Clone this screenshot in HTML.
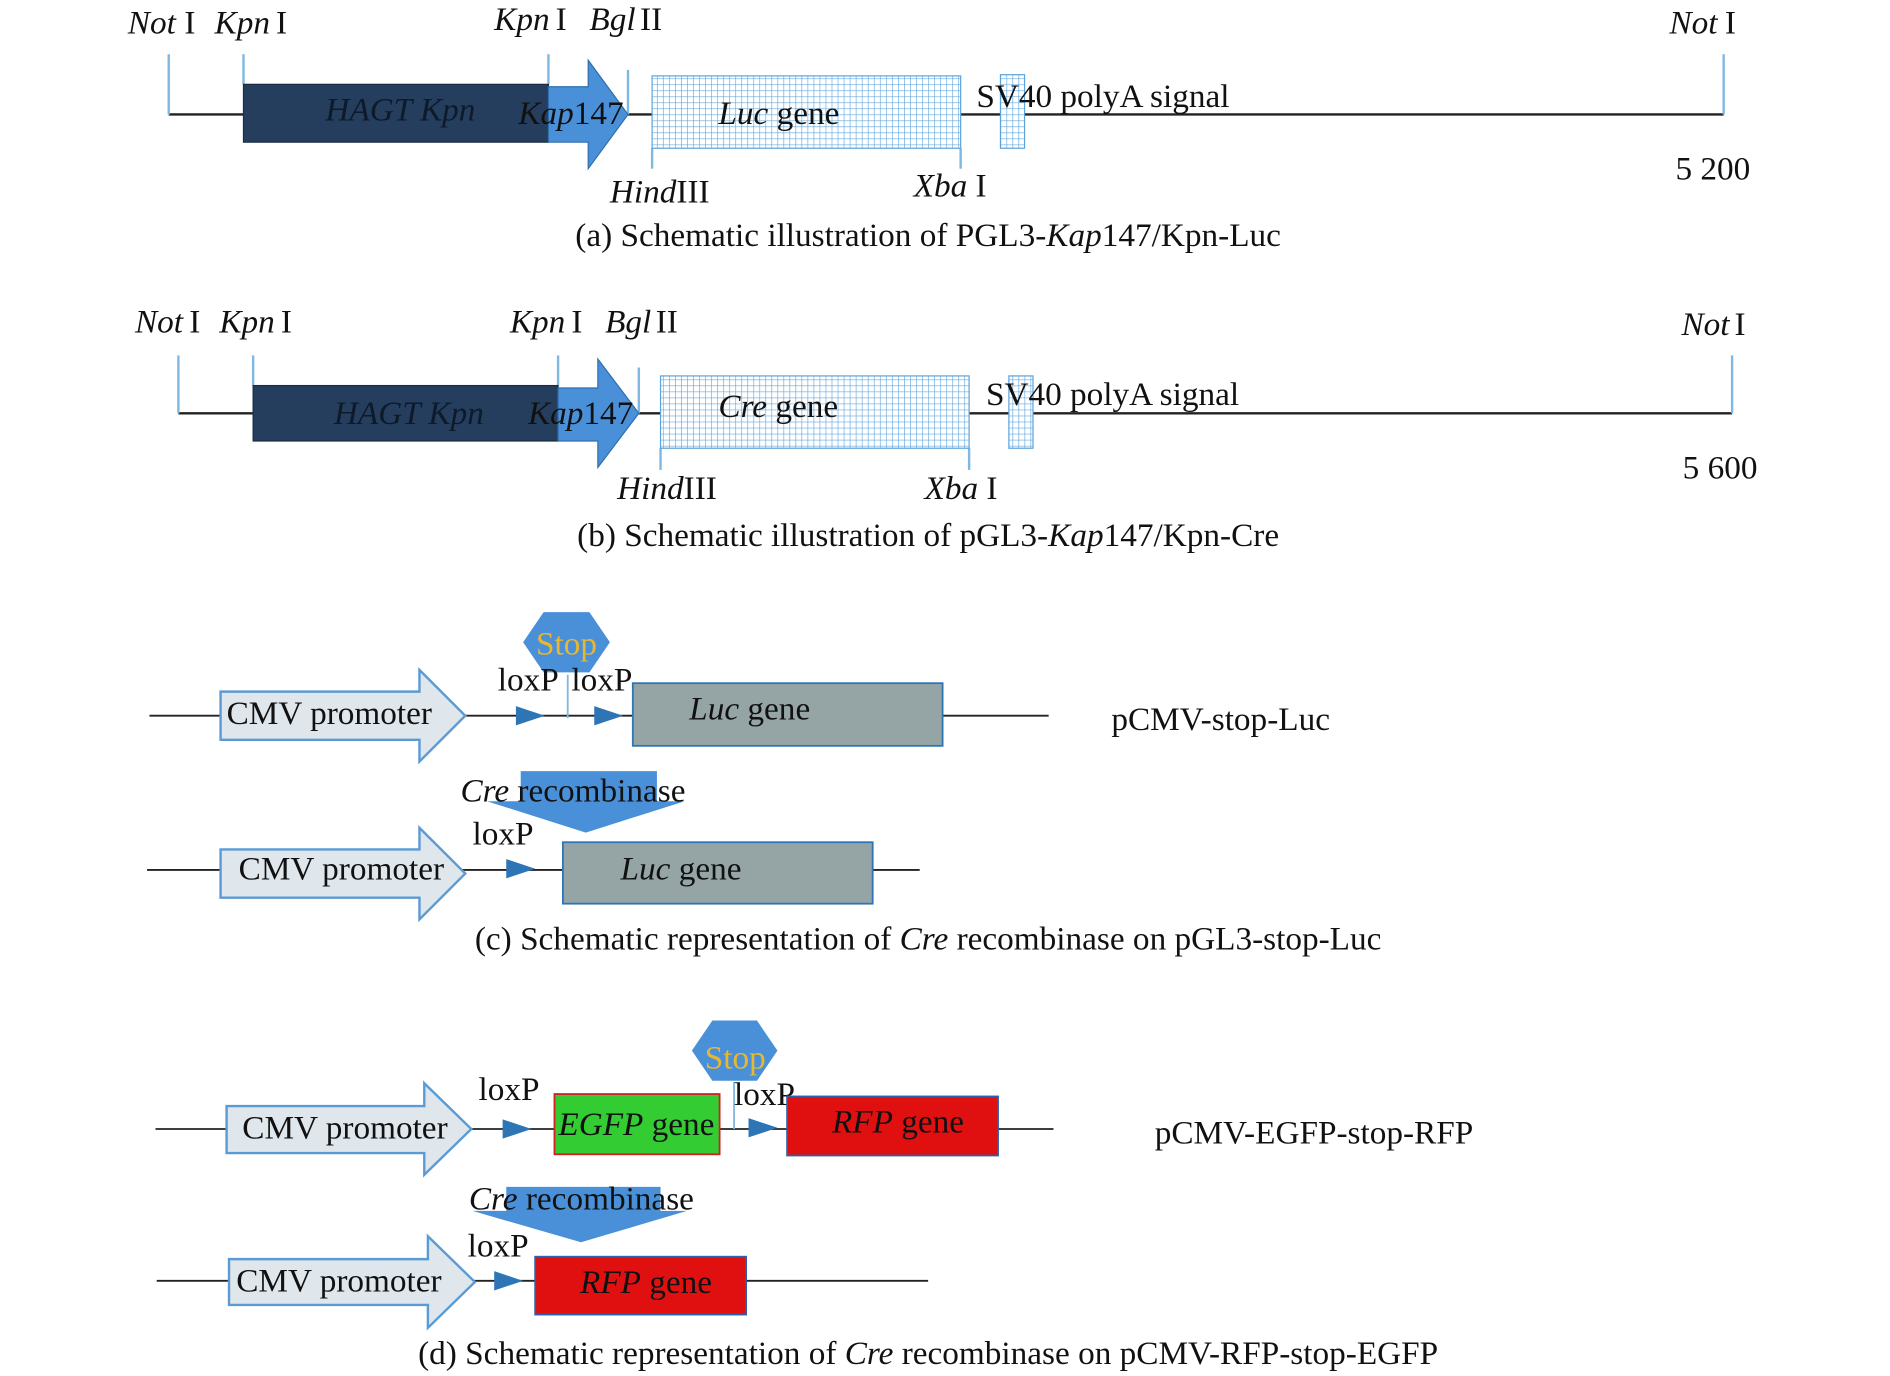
<!DOCTYPE html>
<html><head><meta charset="utf-8"><style>html,body{margin:0;padding:0;background:#fff}svg{display:block}text{font-family:"Liberation Serif",serif}</style></head><body>
<svg width="1890" height="1376" viewBox="0 0 1568 1142" preserveAspectRatio="none" xmlns="http://www.w3.org/2000/svg">
<defs>
<pattern id="g" width="5" height="5" patternUnits="userSpaceOnUse"><rect width="5" height="5" fill="#fff"/><path d="M0 0H5M0 0V5" stroke="#5ba3dc" stroke-width="1"/></pattern>
</defs>
<g font-size="27.6" fill="#111">
<!-- (a) -->
<line x1="140" y1="95" x2="1430" y2="95" stroke="#222" stroke-width="2"/>
<g stroke="#7fb8e0" stroke-width="2"><line x1="140" y1="45" x2="140" y2="95"/><line x1="202" y1="45" x2="202" y2="70"/><line x1="455" y1="45" x2="455" y2="70"/><line x1="521" y1="58" x2="521" y2="95"/><line x1="1430" y1="45" x2="1430" y2="95"/><line x1="541" y1="123" x2="541" y2="140"/><line x1="797" y1="123" x2="797" y2="140"/></g>
<rect x="202" y="70" width="253" height="48" fill="#263e5e" stroke="#1a2c44"/>
<path d="M455 72H488V50L521 95L488 140V118H455Z" fill="#4a90d9" stroke="#2e6fae"/>
<rect x="541" y="63" width="256" height="60" fill="url(#g)" stroke="#5ba3dc"/>
<rect x="830" y="62" width="20" height="61" fill="url(#g)" stroke="#5ba3dc"/>
<text x="106" y="28" font-style="italic">Not</text><text x="153" y="28">I</text>
<text x="178" y="28" font-style="italic">Kpn</text><text x="229" y="28">I</text>
<text x="410" y="25" font-style="italic">Kpn</text><text x="461" y="25">I</text>
<text x="489" y="25" font-style="italic">Bgl</text><text x="531" y="25">II</text>
<text x="1385" y="28" font-style="italic">Not</text><text x="1431" y="28">I</text>
<text x="270" y="100" font-style="italic" style="fill:#0d1a2a">HAGT Kpn</text>
<text x="430" y="103"><tspan font-style="italic">Kap</tspan>147</text>
<text x="596" y="103"><tspan font-style="italic">Luc</tspan> gene</text>
<text x="810" y="89">SV40 polyA signal</text>
<text x="506" y="168"><tspan font-style="italic">Hind</tspan>III</text>
<text x="758" y="163"><tspan font-style="italic">Xba</tspan> I</text>
<text x="1390" y="149">5 200</text>
<text x="770" y="204" text-anchor="middle">(a) Schematic illustration of PGL3-<tspan font-style="italic">Kap</tspan>147/Kpn-Luc</text>
<!-- (b) -->
<line x1="148" y1="343" x2="1437" y2="343" stroke="#222" stroke-width="2"/>
<g stroke="#7fb8e0" stroke-width="2"><line x1="148" y1="295" x2="148" y2="343"/><line x1="210" y1="295" x2="210" y2="320"/><line x1="463" y1="295" x2="463" y2="320"/><line x1="530" y1="305" x2="530" y2="343"/><line x1="1437" y1="295" x2="1437" y2="343"/><line x1="548" y1="372" x2="548" y2="390"/><line x1="804" y1="372" x2="804" y2="390"/></g>
<rect x="210" y="320" width="253" height="46" fill="#263e5e" stroke="#1a2c44"/>
<path d="M463 322H496V298L530 343L496 388V366H463Z" fill="#4a90d9" stroke="#2e6fae"/>
<rect x="548" y="312" width="256" height="60" fill="url(#g)" stroke="#5ba3dc"/>
<rect x="837" y="312" width="20" height="60" fill="url(#g)" stroke="#5ba3dc"/>
<text x="112" y="276" font-style="italic">Not</text><text x="157" y="276">I</text>
<text x="182" y="276" font-style="italic">Kpn</text><text x="233" y="276">I</text>
<text x="423" y="276" font-style="italic">Kpn</text><text x="474" y="276">I</text>
<text x="502" y="276" font-style="italic">Bgl</text><text x="544" y="276">II</text>
<text x="1395" y="278" font-style="italic">Not</text><text x="1439" y="278">I</text>
<text x="277" y="352" font-style="italic" style="fill:#0d1a2a">HAGT Kpn</text>
<text x="438" y="352"><tspan font-style="italic">Kap</tspan>147</text>
<text x="596" y="346"><tspan font-style="italic">Cre</tspan> gene</text>
<text x="818" y="336">SV40 polyA signal</text>
<text x="512" y="414"><tspan font-style="italic">Hind</tspan>III</text>
<text x="767" y="414"><tspan font-style="italic">Xba</tspan> I</text>
<text x="1396" y="397">5 600</text>
<text x="770" y="453" text-anchor="middle">(b) Schematic illustration of pGL3-<tspan font-style="italic">Kap</tspan>147/Kpn-Cre</text>
<!-- (c) -->
<line x1="124" y1="594" x2="870" y2="594" stroke="#222" stroke-width="1.5"/>
<path d="M183 574H348V556L386 594L348 632V614H183Z" fill="#dfe7ec" stroke="#5b9bd5" stroke-width="2"/>
<text x="188" y="601">CMV promoter</text>
<line x1="471" y1="560" x2="471" y2="596" stroke="#7fb8e0" stroke-width="1.5"/>
<path d="M451 508H489L506 533L489 558H451L434 533Z" fill="#4a90d9"/>
<text x="470" y="543" text-anchor="middle" style="fill:#e8b730">Stop</text>
<path d="M428 586L452 594L428 602Z" fill="#2e75b6"/><path d="M493 586L517 594L493 602Z" fill="#2e75b6"/>
<text x="413" y="573">loxP</text><text x="474" y="573">loxP</text>
<rect x="525" y="567" width="257" height="52" fill="#95a5a6" stroke="#2e75b6" stroke-width="1.5"/>
<text x="622" y="597" text-anchor="middle"><tspan font-style="italic">Luc</tspan> gene</text>
<text x="922" y="606">pCMV-stop-Luc</text>
<path d="M432 640H545V665L568 665L486 691L404 665H432Z" fill="#4a90d9"/>
<text x="382" y="665"><tspan font-style="italic">Cre</tspan> recombinase</text>
<line x1="122" y1="722" x2="763" y2="722" stroke="#222" stroke-width="1.5"/>
<path d="M183 705H348V687L386 725L348 763V745H183Z" fill="#dfe7ec" stroke="#5b9bd5" stroke-width="2"/>
<text x="198" y="730">CMV promoter</text>
<text x="392" y="701">loxP</text>
<path d="M420 713L444 721L420 729Z" fill="#2e75b6"/>
<rect x="467" y="699" width="257" height="51" fill="#95a5a6" stroke="#2e75b6" stroke-width="1.5"/>
<text x="565" y="730" text-anchor="middle"><tspan font-style="italic">Luc</tspan> gene</text>
<text x="770" y="788" text-anchor="middle">(c) Schematic representation of <tspan font-style="italic">Cre</tspan> recombinase on pGL3-stop-Luc</text>
<!-- (d) -->
<line x1="129" y1="937" x2="874" y2="937" stroke="#222" stroke-width="1.5"/>
<path d="M188 918H352V899L391 937L352 975V957H188Z" fill="#dfe7ec" stroke="#5b9bd5" stroke-width="2"/>
<text x="201" y="945">CMV promoter</text>
<text x="397" y="913">loxP</text>
<path d="M417 929L441 937L417 945Z" fill="#2e75b6"/>
<rect x="460" y="908" width="137" height="50" fill="#33cc33" stroke="#d02020" stroke-width="1.5"/>
<text x="528" y="942" text-anchor="middle"><tspan font-style="italic">EGFP</tspan> gene</text>
<line x1="609" y1="898" x2="609" y2="937" stroke="#7fb8e0" stroke-width="1.5"/>
<path d="M591 847H628L645 872L628 897H591L574 872Z" fill="#4a90d9"/>
<text x="610" y="887" text-anchor="middle" style="fill:#e8b730">Stop</text>
<text x="609" y="917">loxP</text>
<path d="M621 928L645 936L621 944Z" fill="#2e75b6"/>
<rect x="653" y="910" width="175" height="49" fill="#e01010" stroke="#2e5fa8" stroke-width="1.5"/>
<text x="745" y="940" text-anchor="middle"><tspan font-style="italic">RFP</tspan> gene</text>
<text x="958" y="949">pCMV-EGFP-stop-RFP</text>
<path d="M420 985H548V1005L570 1005L482 1031L392 1005H420Z" fill="#4a90d9"/>
<text x="389" y="1004"><tspan font-style="italic">Cre</tspan> recombinase</text>
<line x1="130" y1="1063" x2="770" y2="1063" stroke="#222" stroke-width="1.5"/>
<path d="M190 1045H355V1026L394 1064L355 1102V1083H190Z" fill="#dfe7ec" stroke="#5b9bd5" stroke-width="2"/>
<text x="196" y="1072">CMV promoter</text>
<text x="388" y="1043">loxP</text>
<path d="M410 1055L434 1063L410 1071Z" fill="#2e75b6"/>
<rect x="444" y="1043" width="175" height="48" fill="#e01010" stroke="#2e5fa8" stroke-width="1.5"/>
<text x="536" y="1073" text-anchor="middle"><tspan font-style="italic">RFP</tspan> gene</text>
<text x="770" y="1132" text-anchor="middle">(d) Schematic representation of <tspan font-style="italic">Cre</tspan> recombinase on pCMV-RFP-stop-EGFP</text>
</g>
</svg>
</body></html>
